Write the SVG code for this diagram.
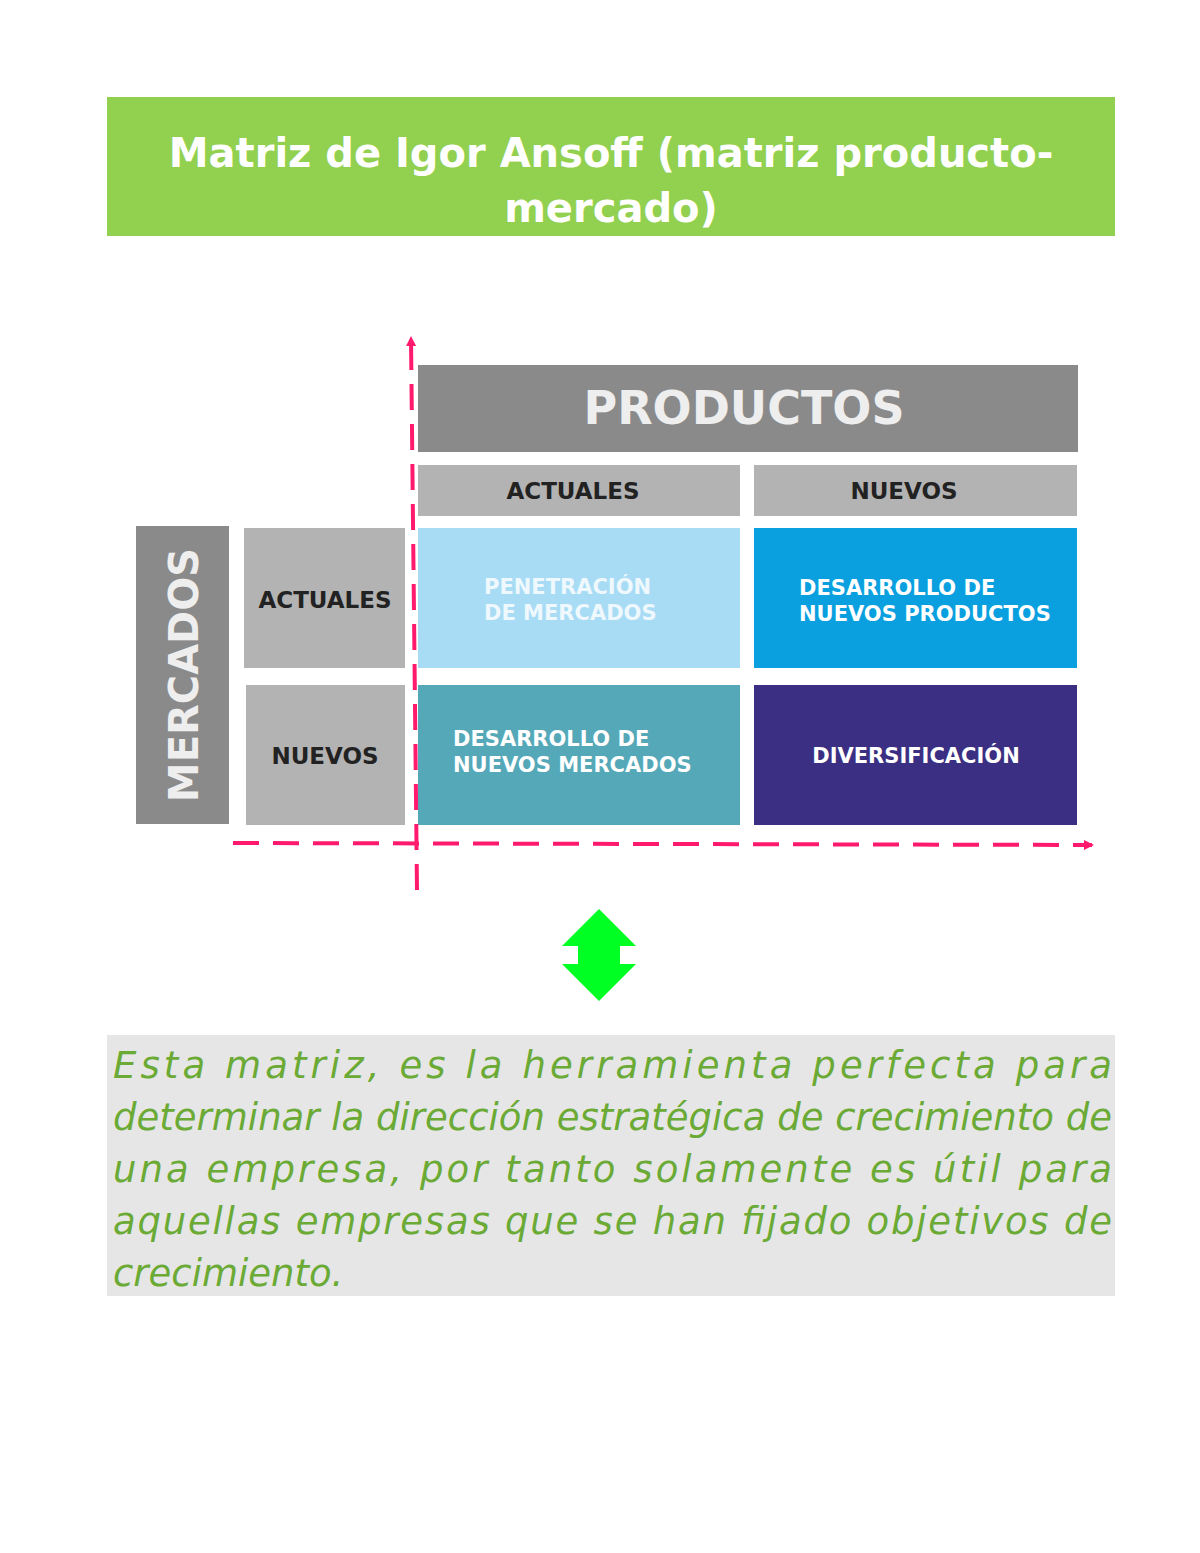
<svg xmlns="http://www.w3.org/2000/svg" width="1200" height="1553" viewBox="0 0 1200 1553">
<style>
.h{font-family:"DejaVu Sans",sans-serif;font-weight:bold;text-anchor:middle}
.c{font-family:"DejaVu Sans",sans-serif;font-weight:bold;font-size:21px}
.p{font-family:"DejaVu Sans",sans-serif;font-style:italic;font-size:37px;fill:#6aaa35}
.d{stroke:#ff1a6e;stroke-width:4;stroke-dasharray:26,14;fill:none}
</style>
<defs><marker id="a" markerWidth="10" markerHeight="10" refX="8" refY="5" orient="auto" markerUnits="userSpaceOnUse"><path d="M0,0L10,5L0,10z" fill="#ff1a6e"/></marker></defs>
<rect width="1200" height="1553" fill="#fff"/>
<g id="title"><rect x="107" y="97" width="1008" height="139" fill="#92D050"/>
<text class="h" x="611" y="167" font-size="40" fill="#fff">Matriz de Igor Ansoff (matriz producto-</text>
<text class="h" x="611" y="222" font-size="40" fill="#fff">mercado)</text></g>
<g id="productos"><rect x="418" y="365" width="660" height="87" fill="#8a8a8a"/><text class="h" x="744" y="424" font-size="46" fill="#eee">PRODUCTOS</text></g>
<g id="p-actuales"><rect x="418" y="465" width="322" height="51" fill="#b3b3b3"/><text class="h" x="573" y="499" font-size="23" fill="#222">ACTUALES</text></g>
<g id="p-nuevos"><rect x="754" y="465" width="323" height="51" fill="#b3b3b3"/><text class="h" x="904" y="499" font-size="23" fill="#222">NUEVOS</text></g>
<g id="mercados"><rect x="136" y="526" width="93" height="298" fill="#8a8a8a"/><text class="h" transform="translate(198,675) rotate(-90)" font-size="40" fill="#eee">MERCADOS</text></g>
<g id="m-actuales"><rect x="244" y="528" width="161" height="140" fill="#b3b3b3"/><text class="h" x="325" y="608" font-size="23" fill="#222">ACTUALES</text></g>
<g id="m-nuevos"><rect x="246" y="685" width="159" height="140" fill="#b3b3b3"/><text class="h" x="325" y="764" font-size="23" fill="#222">NUEVOS</text></g>
<g id="penetracion"><rect x="418" y="528" width="322" height="140" fill="#a8dcf5"/><text class="c" x="484" y="594" fill="#eef8fd">PENETRACIÓN</text><text class="c" x="484" y="620" fill="#eef8fd">DE MERCADOS</text></g>
<g id="des-productos"><rect x="754" y="528" width="323" height="140" fill="#0aa0e0"/><text class="c" x="799" y="595" fill="#fff">DESARROLLO DE</text><text class="c" x="799" y="621" fill="#fff">NUEVOS PRODUCTOS</text></g>
<g id="des-mercados"><rect x="418" y="685" width="322" height="140" fill="#55a8b8"/><text class="c" x="453" y="746" fill="#fff">DESARROLLO DE</text><text class="c" x="453" y="772" fill="#fff">NUEVOS MERCADOS</text></g>
<g id="diversificacion"><rect x="754" y="685" width="323" height="140" fill="#3a2f82"/><text class="c" x="916" y="763" fill="#fff" text-anchor="middle">DIVERSIFICACIÓN</text></g>
<g id="connectors">
<path class="d" d="M417,890L411,338" marker-end="url(#a)"/>
<path class="d" d="M233,843L1092,845" marker-end="url(#a)"/>
<path d="M599,909L636,946L620,946L620,964L636,964L599,1001L562,964L578,964L578,946L562,946Z" fill="#00ff22"/>
</g>
<g id="text"><rect x="107" y="1035" width="1008" height="261" fill="#e6e6e6"/>
<text class="p" x="113" y="1078" textLength="999" lengthAdjust="spacing">Esta matriz, es la herramienta perfecta para</text>
<text class="p" x="113" y="1130" textLength="999" lengthAdjust="spacing">determinar la dirección estratégica de crecimiento de</text>
<text class="p" x="113" y="1182" textLength="999" lengthAdjust="spacing">una empresa, por tanto solamente es útil para</text>
<text class="p" x="113" y="1234" textLength="999" lengthAdjust="spacing">aquellas empresas que se han fijado objetivos de</text>
<text class="p" x="113" y="1286">crecimiento.</text></g>
</svg>
